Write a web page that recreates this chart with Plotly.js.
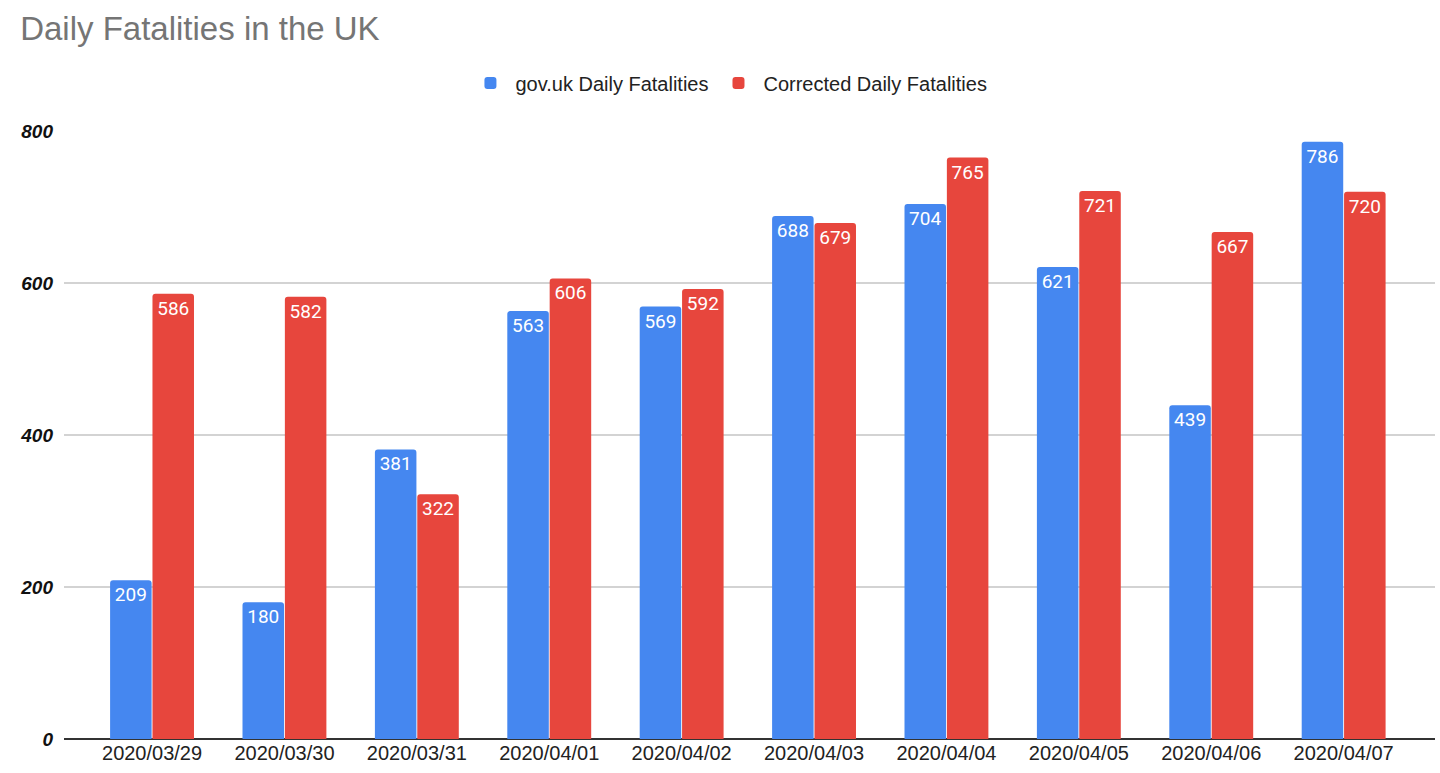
<!DOCTYPE html>
<html>
<head>
<meta charset="utf-8">
<script src="https://cdn.plot.ly/plotly-3.0.1.min.js"></script>
<style>html,body{margin:0;padding:0;background:#fff;}#chart{width:1440px;height:773px;}</style>
</head>
<body>
<div id="chart"></div>
<script>
const dates = ["2020/03/29","2020/03/30","2020/03/31","2020/04/01","2020/04/02","2020/04/03","2020/04/04","2020/04/05","2020/04/06","2020/04/07"];
const govUk = [209,180,381,563,569,688,704,621,439,786];
const corrected = [586,582,322,606,592,679,765,721,667,720];
const yTicks = [0,200,400,600,800];

const labelFont = {family: "Roboto, Arial, sans-serif", size: 19, color: "#ffffff"};

const traces = [
  {type: "bar", name: "gov.uk Daily Fatalities", x: dates, y: govUk,
   marker: {color: "#4587f0"}, text: govUk.map(String), textposition: "inside",
   insidetextanchor: "end", textfont: labelFont, hoverinfo: "y+name"},
  {type: "bar", name: "Corrected Daily Fatalities", x: dates, y: corrected,
   marker: {color: "#e7463d"}, text: corrected.map(String), textposition: "inside",
   insidetextanchor: "end", textfont: labelFont, hoverinfo: "y+name"}
];

const layout = {
  width: 1440, height: 773,
  margin: {l: 64, r: 5, t: 131, b: 34},
  paper_bgcolor: "#fff", plot_bgcolor: "#fff",
  title: {text: "Daily Fatalities in the UK", x: 0.014, xanchor: "left", y: 0.963, yanchor: "middle",
          font: {family: "Arial, Liberation Sans, sans-serif", size: 33, color: "#757575"}},
  showlegend: true,
  legend: {orientation: "h", x: 0.485, xanchor: "center", y: 1.079, yanchor: "middle",
           font: {family: "Arial, Liberation Sans, sans-serif", size: 20, color: "#222"}, itemwidth: 40,
           traceorder: "normal"},
  barmode: "group", bargap: 0.36, bargroupgap: 0.02, barcornerradius: 3,
  xaxis: {type: "category", range: [-0.665, 9.69], showgrid: false, ticks: "",
          tickfont: {family: "Arial, Liberation Sans, sans-serif", size: 20, color: "#222"},
          showline: false, zeroline: false},
  yaxis: {range: [0, 800], tickvals: yTicks, ticktext: yTicks.map(v => "<b><i>" + v + "</i></b>"),
          showgrid: true, gridcolor: "#d3d3d3", gridwidth: 1.5,
          tickfont: {family: "Arial, Liberation Sans, sans-serif", size: 19, color: "#111"},
          ticklabelstandoff: 10, zeroline: true, zerolinecolor: "#333", zerolinewidth: 2, showline: false}
};

Plotly.newPlot("chart", traces, layout, {displayModeBar: false, staticPlot: true});
</script>
</body>
</html>
